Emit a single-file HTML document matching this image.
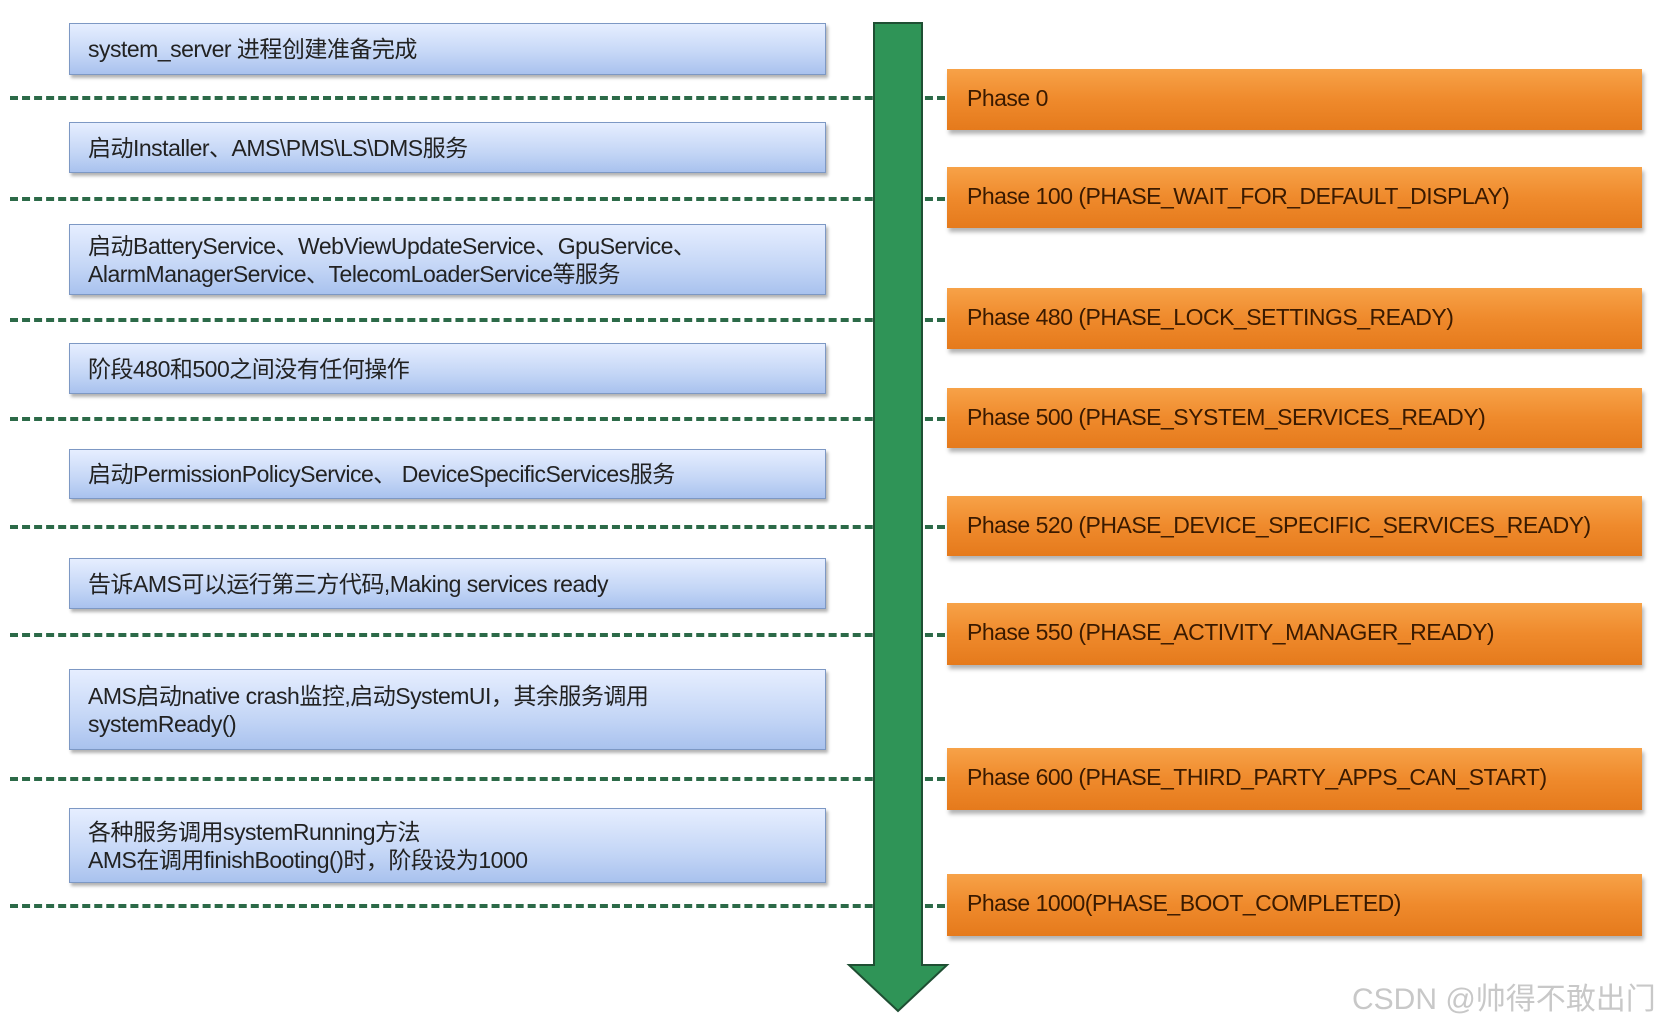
<!DOCTYPE html>
<html><head><meta charset="utf-8"><style>
body{margin:0;width:1672px;height:1022px;background:#fff;position:relative;overflow:hidden;font-family:"Liberation Sans","Noto Sans CJK SC",sans-serif;}
.b{position:absolute;left:69px;width:757px;border:1.5px solid #7d98c4;background:linear-gradient(#e6eeff,#c4d6f6 60%,#a9c2ee);box-shadow:2px 3px 3px rgba(0,0,0,.3);font-size:23px;color:#222;box-sizing:border-box;padding-left:18px;display:flex;flex-direction:column;justify-content:center;line-height:28px;letter-spacing:-0.5px}
.o{position:absolute;left:947px;width:695px;background:linear-gradient(#f7a248,#ef8a2c 50%,#e57a1c);box-shadow:2px 4px 4px rgba(0,0,0,.3);font-size:23px;color:#3a1a00;box-sizing:border-box;padding-left:20px;padding-top:16px;letter-spacing:-0.5px}
.d{position:absolute;left:10px;width:935px;height:0;border-top:4px dashed #2c6a48}
</style></head><body>
<div class="d" style="top:96px"></div>
<div class="d" style="top:197px"></div>
<div class="d" style="top:318px"></div>
<div class="d" style="top:417px"></div>
<div class="d" style="top:525px"></div>
<div class="d" style="top:633px"></div>
<div class="d" style="top:777px"></div>
<div class="d" style="top:904px"></div>
<svg style="position:absolute;left:0;top:0" width="1672" height="1022">
<polygon points="874,23 922,23 922,965 947,965 898,1011 849,965 874,965" fill="#2f9457" stroke="#1f4f33" stroke-width="2"/>
</svg>
<div class="b" style="top:23px;height:52px">system_server 进程创建准备完成</div>
<div class="b" style="top:122px;height:51px">启动Installer、AMS\PMS\LS\DMS服务</div>
<div class="b" style="top:224px;height:71px">启动BatteryService、WebViewUpdateService、GpuService、<br>AlarmManagerService、TelecomLoaderService等服务</div>
<div class="b" style="top:343px;height:51px">阶段480和500之间没有任何操作</div>
<div class="b" style="top:449px;height:50px">启动PermissionPolicyService、 DeviceSpecificServices服务</div>
<div class="b" style="top:558px;height:51px">告诉AMS可以运行第三方代码,Making services ready</div>
<div class="b" style="top:669px;height:81px">AMS启动native crash监控,启动SystemUI，其余服务调用<br>systemReady()</div>
<div class="b" style="top:808px;height:75px">各种服务调用systemRunning方法<br>AMS在调用finishBooting()时，阶段设为1000</div>
<div class="o" style="top:69px;height:61px">Phase 0</div>
<div class="o" style="top:167px;height:61px">Phase 100 (PHASE_WAIT_FOR_DEFAULT_DISPLAY)</div>
<div class="o" style="top:288px;height:61px">Phase 480 (PHASE_LOCK_SETTINGS_READY)</div>
<div class="o" style="top:388px;height:60px">Phase 500 (PHASE_SYSTEM_SERVICES_READY)</div>
<div class="o" style="top:496px;height:60px">Phase 520 (PHASE_DEVICE_SPECIFIC_SERVICES_READY)</div>
<div class="o" style="top:603px;height:62px">Phase 550 (PHASE_ACTIVITY_MANAGER_READY)</div>
<div class="o" style="top:748px;height:62px">Phase 600 (PHASE_THIRD_PARTY_APPS_CAN_START)</div>
<div class="o" style="top:874px;height:62px">Phase 1000(PHASE_BOOT_COMPLETED)</div>
<div style="position:absolute;left:1352px;top:974px;font-size:30px;color:#c8c8c8">CSDN @帅得不敢出门</div>
</body></html>
